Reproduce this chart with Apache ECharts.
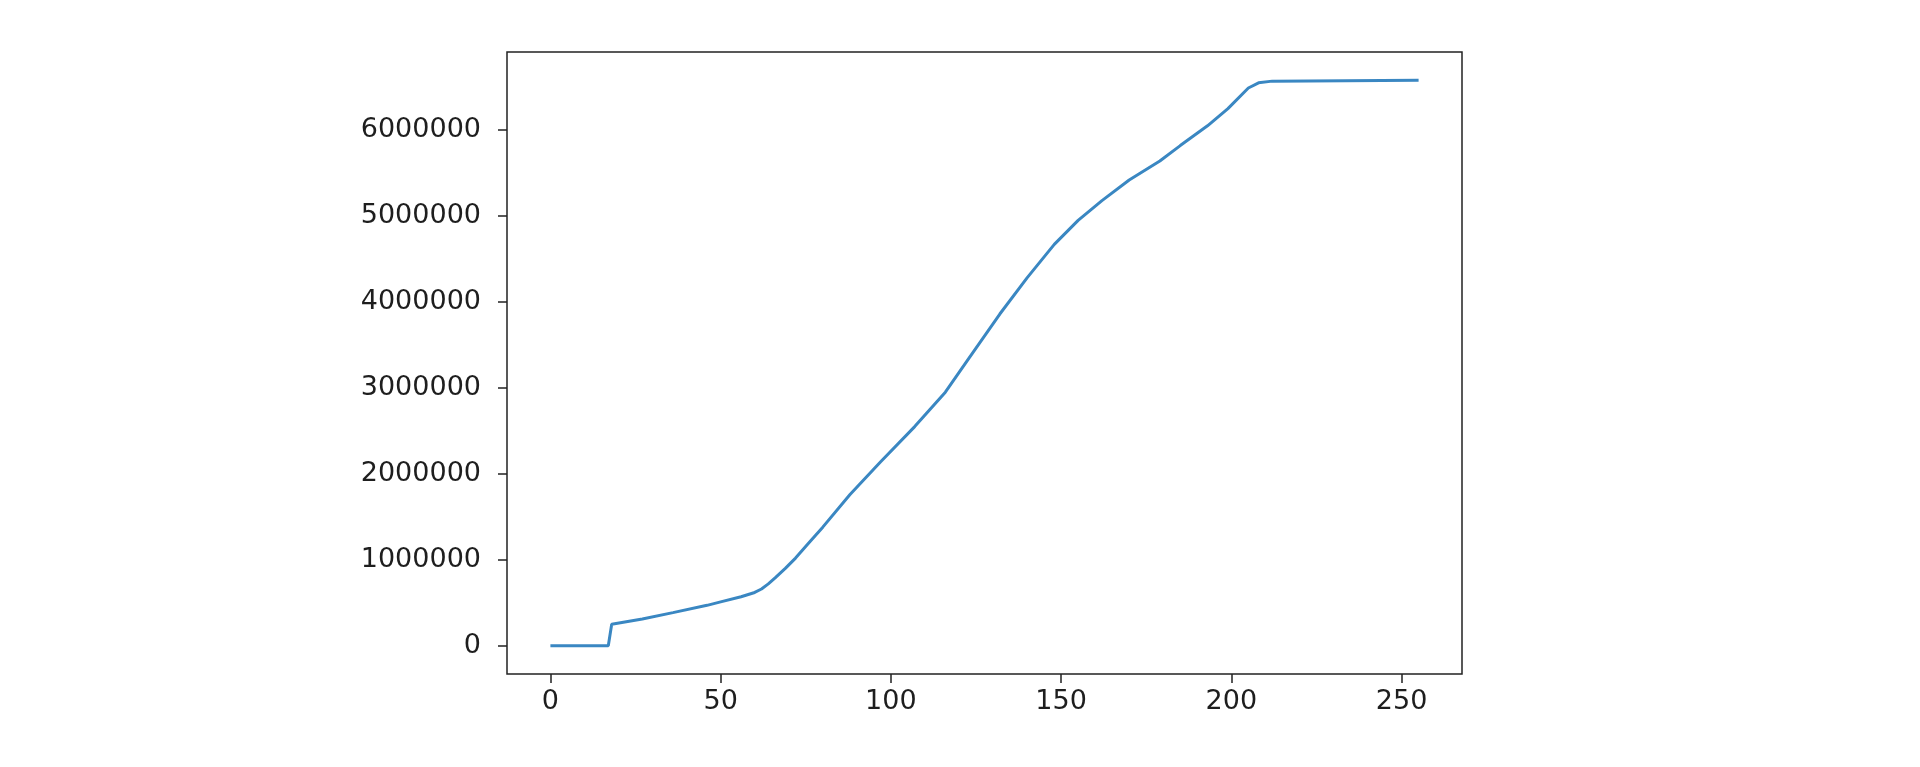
<!DOCTYPE html>
<html>
<head>
<meta charset="utf-8">
<script src="https://cdn.jsdelivr.net/npm/echarts@6/dist/echarts.min.js"></script>
<style>
  html, body { margin: 0; padding: 0; background: #fff; }
  #main { width: 1920px; height: 767px; }
</style>
</head>
<body>
<div id="main"></div>
<script>
// points (x, cumulative value)
var xs = [0, 17, 18, 27, 36, 46, 50, 56, 60, 62, 64, 66, 69, 72, 76, 80, 88, 97, 107, 116, 123, 132, 140, 148, 155, 162, 170, 179, 185, 193, 199, 205, 208, 212, 255];
var ys = [0, 0, 250000, 310000, 385000, 470000, 510000, 570000, 620000, 660000, 720000, 790000, 900000, 1020000, 1200000, 1380000, 1760000, 2140000, 2550000, 2950000, 3350000, 3860000, 4280000, 4670000, 4950000, 5180000, 5420000, 5640000, 5820000, 6050000, 6250000, 6490000, 6550000, 6570000, 6580000];

var xTicks = [0, 50, 100, 150, 200, 250];
var yTicks = [0, 1000000, 2000000, 3000000, 4000000, 5000000, 6000000];

var myChart = echarts.init(document.getElementById('main'));

let pts = xs.map(function (x, i) { return [x, ys[i]]; });

// matplotlib style 5% margins
let xPad = (xs[xs.length - 1] - xs[0]) * 0.05;
let yPad = (ys[ys.length - 1] - ys[0]) * 0.05;

let labelStyle = {
    color: '#1e1e1e',
    fontSize: 27,
    fontFamily: 'DejaVu Sans'
};

option = {
    backgroundColor: '#fff',
    animation: false,
    grid: {
        left: 507,
        right: 458,
        top: 52,
        bottom: 93,
        show: true,
        borderColor: '#222',
        borderWidth: 1.5,
        backgroundColor: '#fff'
    },
    xAxis: {
        type: 'value',
        min: xs[0] - xPad,
        max: xs[xs.length - 1] + xPad,
        splitLine: { show: false },
        axisLine: { show: false, onZero: false },
        axisTick: {
            show: true,
            length: 9,
            customValues: xTicks,
            lineStyle: { color: '#222', width: 1.5 }
        },
        axisLabel: Object.assign({
            customValues: xTicks,
            margin: 14,
            formatter: function (v) { return String(v); }
        }, labelStyle)
    },
    yAxis: {
        type: 'value',
        min: ys[0] - yPad,
        max: ys[ys.length - 1] + yPad,
        splitLine: { show: false },
        axisLine: { show: false, onZero: false },
        axisTick: {
            show: true,
            length: 9,
            customValues: yTicks,
            lineStyle: { color: '#222', width: 1.5 }
        },
        axisLabel: Object.assign({
            customValues: yTicks,
            margin: 26,
            formatter: function (v) { return String(v); }
        }, labelStyle)
    },
    series: [
        {
            type: 'line',
            data: pts,
            showSymbol: false,
            smooth: false,
            lineStyle: {
                color: '#3a87c2',
                width: 3
            }
        }
    ]
};

myChart.setOption(option);
</script>
</body>
</html>
